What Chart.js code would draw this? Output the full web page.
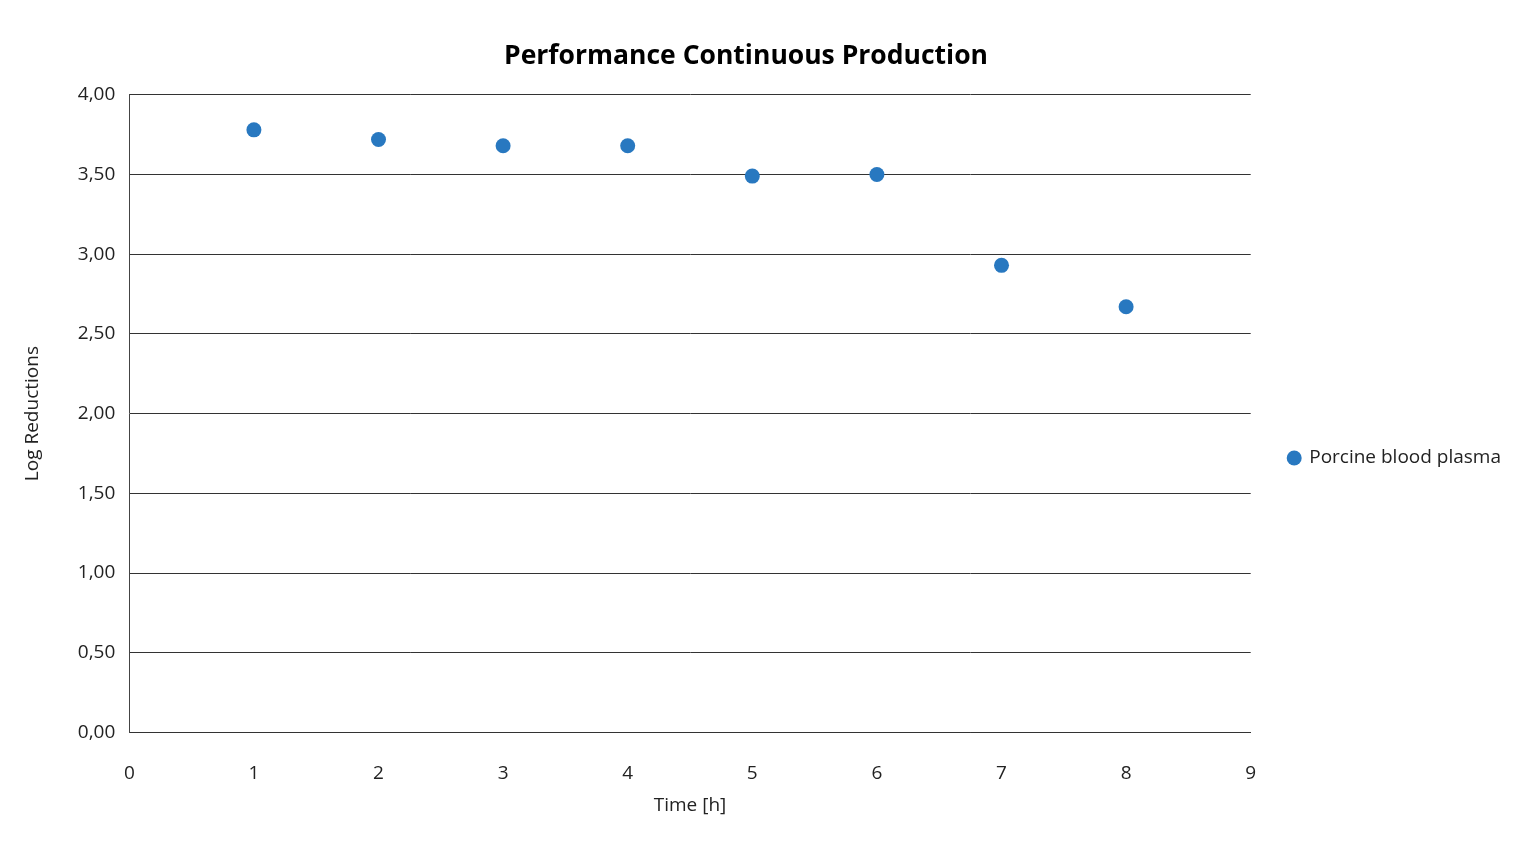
<!DOCTYPE html>
<html>
<head>
<meta charset="utf-8">
<script src="https://cdn.jsdelivr.net/npm/chart.js@4"></script>
<style>
    html, body { margin: 0; padding: 0; background: #fff; }
    #wrap { width: 1536px; height: 842px; }
</style>
</head>
<body>
<div id="wrap"><canvas id="perfChart" width="1536" height="842"></canvas></div>
<script>
const hours = [1, 2, 3, 4, 5, 6, 7, 8];
const logReductions = [3.78, 3.72, 3.68, 3.68, 3.49, 3.50, 2.93, 2.67];
const seriesName = 'Porcine blood plasma';
const xTicks = [0, 1, 2, 3, 4, 5, 6, 7, 8, 9];
const yTicks = [0, 0.5, 1, 1.5, 2, 2.5, 3, 3.5, 4];

// le titre et la légende ne sont pas centrés comme Chart.js le ferait
const titleCenterX = 746;
const legendShiftY = 29;

document.addEventListener("DOMContentLoaded", function () {
    const ctx = document.getElementById('perfChart').getContext('2d');
    const points = hours.map((h, i) => ({x: h, y: logReductions[i]}));
    const font = size => ({family: "'Open Sans', sans-serif", size: size});

    const nudgeBoxes = {
        id: 'nudgeBoxes',
        afterLayout(chart) {
            const t = chart.titleBlock;
            if (t) {
                const w = t.right - t.left;
                t.left = titleCenterX - w / 2;
                t.right = titleCenterX + w / 2;
            }
            const l = chart.legend;
            if (l) {
                l.top += legendShiftY;
                l.bottom += legendShiftY;
            }
        }
    };

    new Chart(ctx, {
        type: 'scatter',
        data: {
            datasets: [{
                label: seriesName,
                data: points,
                backgroundColor: '#2878c0',
                borderColor: '#2878c0',
                borderWidth: 0,
                pointRadius: 7.5,
                pointHoverRadius: 7.5,
                pointStyle: 'circle',
                clip: false
            }]
        },
        options: {
            responsive: false,
            animation: false,
            layout: {padding: {left: 21, right: 25, top: 41, bottom: 25}},
            plugins: {
                title: {
                    display: true,
                    text: 'Performance Continuous Production',
                    color: '#000',
                    font: {family: "'Open Sans', sans-serif", size: 26.5, weight: 'bold'},
                    padding: {top: 0, bottom: 22}
                },
                legend: {
                    position: 'right',
                    labels: {
                        usePointStyle: true,
                        boxWidth: 11,
                        boxHeight: 10.6,
                        color: '#222',
                        padding: 38,
                        font: font(19)
                    }
                },
                tooltip: {enabled: false}
            },
            scales: {
                x: {
                    type: 'linear',
                    min: 0,
                    max: 9,
                    afterBuildTicks: axis => { axis.ticks = xTicks.map(v => ({value: v})); },
                    grid: {display: false, drawTicks: false},
                    border: {display: true, color: '#333'},
                    ticks: {color: '#222', padding: 30, font: font(19)},
                    title: {
                        display: true,
                        text: 'Time [h]',
                        color: '#222',
                        font: font(19),
                        padding: {top: -21, bottom: 0}
                    }
                },
                y: {
                    min: 0,
                    max: 4,
                    afterBuildTicks: axis => { axis.ticks = yTicks.map(v => ({value: v})); },
                    grid: {color: '#333', drawTicks: false, lineWidth: 1},
                    border: {display: true, color: '#444'},
                    ticks: {
                        color: '#222',
                        padding: 14,
                        font: font(19),
                        callback: v => v.toFixed(2).replace('.', ',')
                    },
                    title: {
                        display: true,
                        text: 'Log Reductions',
                        color: '#222',
                        font: font(19),
                        padding: {top: 0, bottom: 20}
                    }
                }
            }
        },
        plugins: [nudgeBoxes]
    });
});
</script>
</body>
</html>
